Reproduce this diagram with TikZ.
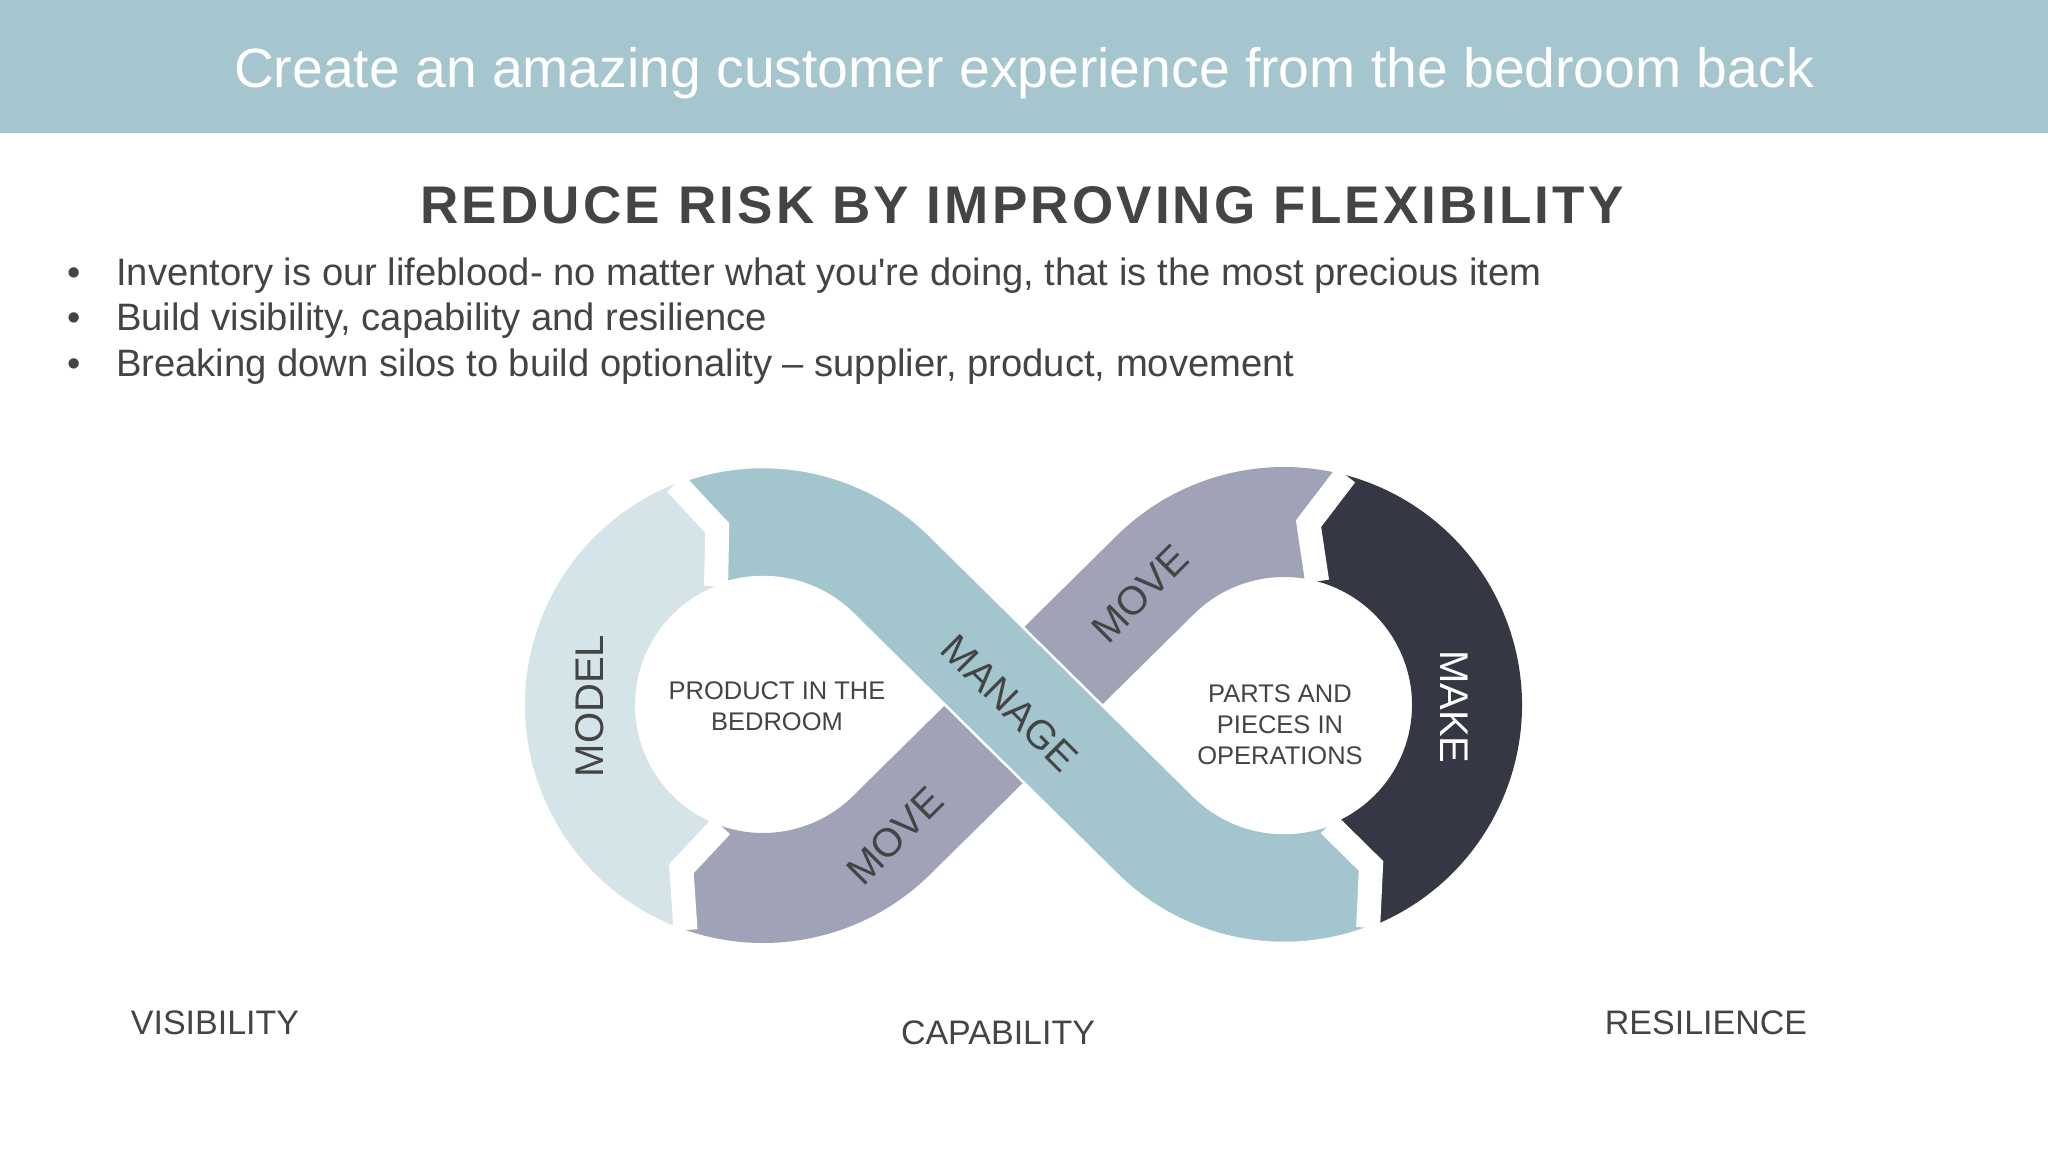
\documentclass[tikz,border=0pt]{standalone}
\usepackage{fontspec}
\setmainfont{Liberation Sans}
\newfontfamily\headfont[LetterSpace=6]{Liberation Sans}
\usetikzlibrary{positioning}
\definecolor{banner}{HTML}{A5C6CE}
\definecolor{manage}{HTML}{A3C5CE}
\definecolor{model}{HTML}{D5E4E8}
\definecolor{move}{HTML}{A0A3B8}
\definecolor{make}{HTML}{363744}
\definecolor{ink}{HTML}{444444}
\begin{document}
\begin{tikzpicture}[x=1pt, y=1pt, line join=miter,
	lbl/.style={text=ink, inner sep=0pt, font=\fontsize{40}{40}\selectfont},
	hub/.style={text=ink, align=center, inner sep=0pt, font=\fontsize{25.5}{31}\selectfont},
	foot/.style={text=ink, inner sep=0pt, font=\fontsize{34}{34}\selectfont},
	item/.style={text=ink, inner sep=0pt, anchor=base west, font=\fontsize{38.2}{38}\selectfont},
	dot/.style={text=ink, inner sep=0pt, anchor=base, font=\fontsize{38}{38}\selectfont},
	gap/.style={white, line width=24, line cap=square, line join=miter}]
	\useasboundingbox (0,0) rectangle (2048,1152);
	\def\Ro{238}\def\Ri{128}\def\Rm{183}
	\path
	(763,447) coordinate (CL)
	(1284,447) coordinate (CR)
	;
	\pgfmathsetmacro\ta{acos(2*\Rm/521)}
	\pgfmathsetmacro\tA{180-\ta}
	\pgfmathsetmacro\tB{180+\ta}
	\pgfmathsetmacro\tC{-\ta}
	% banner and headings
	\fill[banner] (0,1019) rectangle (2048,1152);
	\node[text=white, inner sep=0pt, anchor=base, font=\fontsize{55.3}{55}\selectfont] (banner) at (1024,1064) {Create an amazing customer experience from the bedroom back};
	\node[text=ink, inner sep=0pt, font=\headfont\bfseries\fontsize{53}{53}\selectfont] (head) at (1022,947) {REDUCE RISK BY IMPROVING FLEXIBILITY};
	\node[dot] (d1) at (74,866) {•};
	\node[dot] (d2) at (74,821) {•};
	\node[dot] (d3) at (74,775) {•};
	\node[item] (b1) at (116,866) {Inventory is our lifeblood- no matter what you\textquotesingle re doing, that is the most precious item};
	\node[item] (b2) at (116,821) {Build visibility, capability and resilience};
	\node[item] (b3) at (116,775) {Breaking down silos to build optionality -- supplier, product, movement};
	% the loop
	\fill[move] ([shift={(75:\Ro)}]CR) arc[start angle=75, end angle=\tA, radius=\Ro]
		-- ([shift={(\tC:\Ri)}]CL) arc[start angle=\tC, end angle=-109, radius=\Ri]
		-- ([shift={(-116.5:\Rm)}]CL) -- ([shift={(-109:\Ro)}]CL)
		arc[start angle=-109, end angle=\tC, radius=\Ro]
		-- ([shift={(\tA:\Ri)}]CR) arc[start angle=\tA, end angle=75, radius=\Ri]
		-- ([shift={(82.3:\Rm)}]CR) -- cycle;
	\fill[model] ([shift={(251:\Ro)}]CL) arc[start angle=251, end angle=111.5, radius=\Ro]
		-- ([shift={(104.5:\Rm)}]CL) -- ([shift={(111.5:\Ri)}]CL)
		arc[start angle=111.5, end angle=251, radius=\Ri]
		-- ([shift={(243.5:\Rm)}]CL) -- cycle;
	\fill[make] ([shift={(290.7:\Ro)}]CR) arc[start angle=290.7, end angle=435, radius=\Ro]
		-- ([shift={(82.3:\Rm)}]CR) -- ([shift={(75:\Ri)}]CR)
		arc[start angle=435, end angle=290.7, radius=\Ri]
		-- ([shift={(298.4:\Rm)}]CR) -- cycle;
	\filldraw[fill=manage, draw=white, line width=2.5] ([shift={(111.5:\Ro)}]CL) arc[start angle=111.5, end angle=\ta, radius=\Ro]
		-- ([shift={(\tB:\Ri)}]CR) arc[start angle=\tB, end angle=290.7, radius=\Ri]
		-- ([shift={(298.4:\Rm)}]CR) -- ([shift={(290.7:\Ro)}]CR)
		arc[start angle=290.7, end angle=\tB, radius=\Ro]
		-- ([shift={(\ta:\Ri)}]CL) arc[start angle=\ta, end angle=111.5, radius=\Ri]
		-- ([shift={(104.5:\Rm)}]CL) -- cycle;
	% white gaps between the pieces
	\draw[gap] ([shift={(111.5:\Ro)}]CL) -- ([shift={(104.5:\Rm)}]CL) -- ([shift={(111.5:\Ri)}]CL);
	\draw[gap] ([shift={(251:\Ro)}]CL) -- ([shift={(243.5:\Rm)}]CL) -- ([shift={(251:\Ri)}]CL);
	\draw[gap] ([shift={(290.7:\Ro)}]CR) -- ([shift={(298.4:\Rm)}]CR) -- ([shift={(290.7:\Ri)}]CR);
	\draw[gap] ([shift={(75:\Ro)}]CR) -- ([shift={(82.3:\Rm)}]CR) -- ([shift={(75:\Ri)}]CR);
	% labels
	\node[lbl, rotate=90] (model) at (590,446) {MODEL};
	\node[lbl, rotate=-45] (manage) at (1010,449) {MANAGE};
	\node[lbl, rotate=45] (moveup) at (1140,558) {MOVE};
	\node[lbl, rotate=45] (movedown) at (895,316) {MOVE};
	\node[lbl, rotate=-90, text=white] (make) at (1454,445) {MAKE};
	\node[hub] (bedroom) at (777,446) {PRODUCT IN THE\\BEDROOM};
	\node[hub] (operations) at (1280,427) {PARTS AND\\PIECES IN\\OPERATIONS};
	\node[foot] (visibility) at (215,129) {VISIBILITY};
	\node[foot] (capability) at (998,119) {CAPABILITY};
	\node[foot] (resilience) at (1706,129) {RESILIENCE};
\end{tikzpicture}
\end{document}
